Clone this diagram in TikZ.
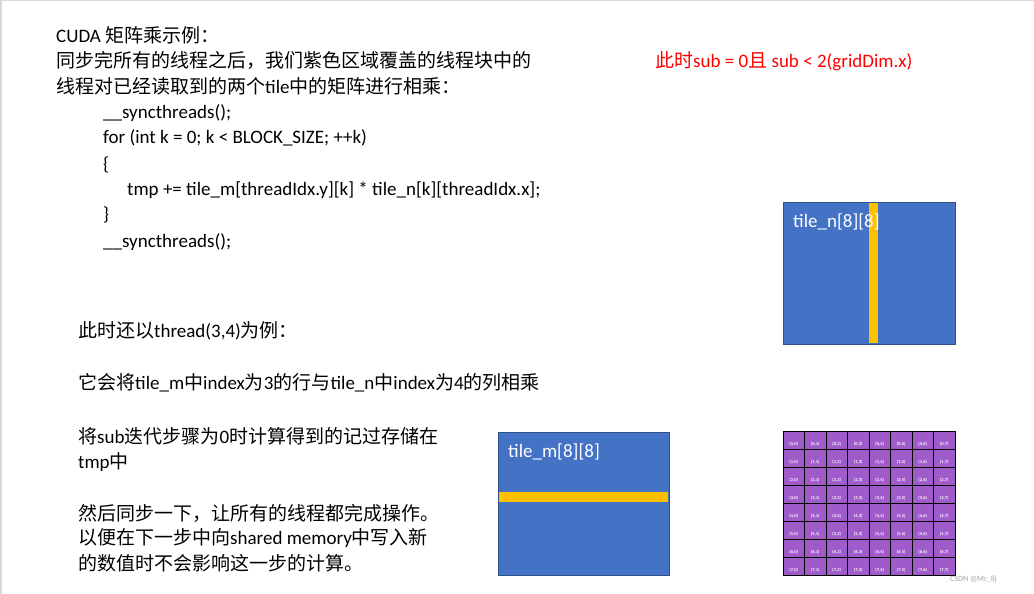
\documentclass[tikz,border=0pt]{standalone}
\usepackage{fontspec}
\setmainfont{Carlito}
\newfontfamily\cjk{Noto Sans CJK SC}
\newcommand{\C}[1]{{\cjk #1}}
\definecolor{pblue}{HTML}{4472C4}
\definecolor{pyel}{HTML}{FFC000}
\definecolor{ppur}{HTML}{A05BCB}
\tikzset{
 txt/.style={anchor=west,inner sep=0pt,font=\fontsize{19}{22}\selectfont},
 lbl/.style={anchor=west,inner sep=0pt,text=white,font=\fontsize{19}{22}\selectfont},
 cell/.style={draw=black,line width=0.8pt,fill=ppur},
 clab/.style={inner sep=0pt,text=white,font=\bfseries\fontsize{4.5}{5}\selectfont}
}
\begin{document}
\begin{tikzpicture}[x=1pt,y=-1pt]
\useasboundingbox (0,0) rectangle (1034,594);
\fill[white] (0,0) rectangle (1034,594);
\draw[gray!30,line width=3pt] (0,0) -- (1034,0);
\draw[gray!30,line width=3pt] (0,0) -- (0,594);
% left texts
\node[txt] (t1) at (56,35) {CUDA \C{矩阵乘示例：}};
\node[txt] (t2) at (56,60) {\C{同步完所有的线程之后，我们紫色区域覆盖的线程块中的}};
\node[txt] (t3) at (56,86) {\C{线程对已经读取到的两个}tile\C{中的矩阵进行相乘：}};
\node[txt] (c1) at (103,113) {\_\_syncthreads();};
\node[txt] (c2) at (103,138) {for (int k = 0; k < BLOCK\_SIZE; ++k)};
\node[txt] (c3) at (103,165) {\{};
\node[txt] (c4) at (127,190) {tmp += tile\_m[threadIdx.y][k] * tile\_n[k][threadIdx.x];};
\node[txt] (c5) at (103,215) {\}};
\node[txt] (c6) at (103,242) {\_\_syncthreads();};
\node[txt] (p1) at (78,331) {\C{此时还以}thread(3,4)\C{为例：}};
\node[txt] (p2) at (78,383) {\C{它会将}tile\_m\C{中}index\C{为}3\C{的行与}tile\_n\C{中}index\C{为}4\C{的列相乘}};
\node[txt] (p3) at (78,436) {\C{将}sub\C{迭代步骤为}0\C{时计算得到的记过存储在}};
\node[txt] (p4) at (78,462) {tmp\C{中}};
\node[txt] (p5) at (78,513) {\C{然后同步一下，让所有的线程都完成操作。}};
\node[txt] (p6) at (78,538) {\C{以便在下一步中向}shared memory\C{中写入新}};
\node[txt] (p7) at (78,563) {\C{的数值时不会影响这一步的计算。}};
\node[txt,text=red] (r1) at (655,61) {\C{此时}sub = 0\C{且} sub < 2(gridDim.x)};
% tile_n
\draw[fill=pblue,draw=pblue!70!black,line width=0.6pt] (783,202) rectangle (955,344);
\fill[pyel] (869,203) rectangle (878,343);
\node[lbl] (ln) at (793,222) {tile\_n[8][8]};
% tile_m
\draw[fill=pblue,draw=pblue!70!black,line width=0.6pt] (498,432) rectangle (669,575);
\fill[pyel] (499,492) rectangle (668,502);
\node[lbl] (lm) at (508,452) {tile\_m[8][8]};
% grid
\foreach \r in {0,...,7}{
 \foreach \c in {0,...,7}{
  \draw[cell] ({783+\c*21.5},{431+\r*18}) rectangle ({783+(\c+1)*21.5},{431+(\r+1)*18});
  \node[clab] at ({783+(\c+0.5)*21.5},{431+\r*18+13.5}) {(\r,\c)};
 }}
\node[anchor=west,inner sep=0pt,text=gray!70,font=\fontsize{8}{9}\selectfont] (wm) at (950,579) {CSDN @Mr\_8j};
\end{tikzpicture}
\end{document}
